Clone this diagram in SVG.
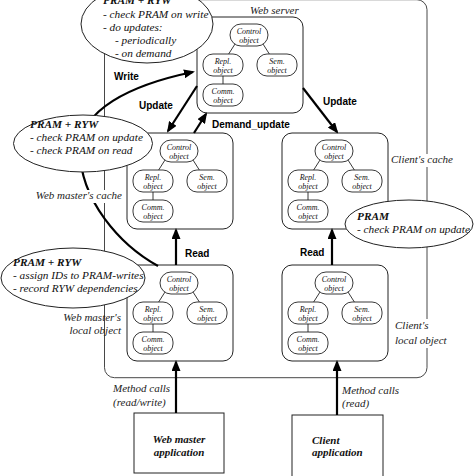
<svg xmlns="http://www.w3.org/2000/svg" width="474" height="476" viewBox="0 0 474 476">
<style>
.frame{fill:none;stroke:#333;stroke-width:0.9}
.box{fill:#fff;stroke:#222;stroke-width:1}
.pill{fill:#fff;stroke:#222;stroke-width:0.9}
.tl{stroke:#222;stroke-width:0.9}
.ell{fill:#fff;stroke:#222;stroke-width:1}
.conn{fill:none;stroke:#000;stroke-width:2.2}
.nt{font-family:"Liberation Serif","Times New Roman",serif;font-style:italic;font-size:8px;text-anchor:middle;fill:#111}
.it{font-family:"Liberation Serif","Times New Roman",serif;font-style:italic;font-size:11.3px;fill:#111}
.bi{font-family:"Liberation Serif","Times New Roman",serif;font-style:italic;font-weight:bold;font-size:11.3px;fill:#111}
.lb{font-family:"Liberation Serif","Times New Roman",serif;font-style:italic;font-size:11px;fill:#222}
.al{font-family:"Liberation Sans",Arial,sans-serif;font-weight:bold;font-size:10px;fill:#000}
.app{font-family:"Liberation Serif","Times New Roman",serif;font-style:italic;font-weight:bold;font-size:11px;fill:#111}
</style>
<defs>
<marker id="ah" markerUnits="userSpaceOnUse" markerWidth="11" markerHeight="9" refX="9" refY="4.5" orient="auto">
<path d="M0,0 L11,4.5 L0,9 z" fill="#000"/>
</marker>
<g id="inner">
<rect class="box" x="0" y="0" width="106" height="96" rx="10"/>
<line class="tl" x1="38" y1="27" x2="31" y2="38"/>
<line class="tl" x1="66" y1="27" x2="73" y2="38"/>
<line class="tl" x1="26" y1="59" x2="26" y2="67"/>
<rect class="pill" x="33" y="7" width="38" height="22" rx="11"/>
<text class="nt" x="52" y="16.5">Control</text><text class="nt" x="52" y="25.5">object</text>
<rect class="pill" x="6" y="37" width="40" height="22" rx="10"/>
<text class="nt" x="26" y="46.5">Repl.</text><text class="nt" x="26" y="55.5">object</text>
<rect class="pill" x="60" y="37" width="40" height="22" rx="10"/>
<text class="nt" x="80" y="46.5">Sem.</text><text class="nt" x="80" y="55.5">object</text>
<rect class="pill" x="6" y="67" width="40" height="22" rx="10"/>
<text class="nt" x="26" y="76.5">Comm.</text><text class="nt" x="26" y="85.5">object</text>
</g>
</defs>

<rect class="frame" x="104.5" y="-0.3" width="322.5" height="378" rx="10"/>

<g id="web-server"><use href="#inner" x="197" y="17"/></g>
<g id="wm-cache"><use href="#inner" x="127" y="133"/></g>
<g id="wm-local"><use href="#inner" x="127" y="265"/></g>
<g id="client-cache"><use href="#inner" x="282" y="133"/></g>
<g id="client-local"><use href="#inner" x="282" y="265"/></g>

<g id="wm-app">
<rect class="box" x="134" y="413" width="90" height="60"/>
<text class="app" x="179" y="443" text-anchor="middle">Web master</text>
<text class="app" x="179" y="456" text-anchor="middle">application</text>
</g>
<g id="client-app">
<rect class="box" x="292" y="415" width="91" height="70"/>
<text class="app" x="312" y="444">Client</text>
<text class="app" x="312" y="456">application</text>
</g>

<g id="connectors">
<path class="conn" d="M158,266 C120,245 80,200 80,150 C80,110 130,85 193,72" marker-end="url(#ah)"/>
<path class="conn" d="M197,86 L168,131" marker-end="url(#ah)"/>
<path class="conn" d="M194,133 L206,114" marker-end="url(#ah)"/>
<path class="conn" d="M303,88 L337,132" marker-end="url(#ah)"/>
<path class="conn" d="M176,265 L176,230" marker-end="url(#ah)"/>
<path class="conn" d="M332,265 L332,230" marker-end="url(#ah)"/>
<path class="conn" d="M176,413 L176,362" marker-end="url(#ah)"/>
<path class="conn" d="M337,415 L337,362" marker-end="url(#ah)"/>
</g>

<g id="note-server">
<ellipse class="ell" cx="147" cy="24" rx="66" ry="39"/>
<text class="bi" x="103" y="4">PRAM + RYW</text>
<text class="it" x="103" y="17.5">- check PRAM on write</text>
<text class="it" x="103" y="30.5">- do updates:</text>
<text class="it" x="115" y="43.5">- periodically</text>
<text class="it" x="115" y="56.5">- on demand</text>
</g>
<g id="note-wm-cache">
<ellipse class="ell" cx="83" cy="143.5" rx="69.5" ry="28.5"/>
<text class="bi" x="30" y="128">PRAM + RYW</text>
<text class="it" x="30" y="141">- check PRAM on update</text>
<text class="it" x="30" y="154">- check PRAM on read</text>
</g>
<g id="note-wm-local">
<ellipse class="ell" cx="73" cy="278" rx="72" ry="30"/>
<text class="bi" x="13" y="266">PRAM + RYW</text>
<text class="it" x="13" y="279">- assign IDs to PRAM-writes</text>
<text class="it" x="13" y="292">- record RYW dependencies</text>
</g>
<g id="note-client">
<ellipse class="ell" cx="409" cy="224" rx="64" ry="24"/>
<text class="bi" x="357" y="220">PRAM</text>
<text class="it" x="357" y="233">- check PRAM on update</text>
</g>

<g id="labels">
<text class="lb" x="250" y="14">Web server</text>
<rect x="30" y="190" width="94" height="13" fill="#fff"/>
<text class="lb" x="122" y="199" text-anchor="end">Web master's cache</text>
<text class="lb" x="121" y="321" text-anchor="end">Web master's</text>
<text class="lb" x="121" y="334" text-anchor="end">local object</text>
<rect x="389" y="154" width="66" height="13" fill="#fff"/>
<text class="lb" x="391" y="163">Client's cache</text>
<rect x="393" y="319" width="58" height="29" fill="#fff"/>
<text class="lb" x="395" y="329">Client's</text>
<text class="lb" x="395" y="344">local object</text>
<text class="lb" x="113" y="392">Method calls</text>
<text class="lb" x="113" y="406">(read/write)</text>
<text class="lb" x="342" y="394">Method calls</text>
<text class="lb" x="342" y="407">(read)</text>
<text class="al" x="114" y="80">Write</text>
<text class="al" x="139" y="109">Update</text>
<text class="al" x="323" y="105">Update</text>
<text class="al" x="212" y="128">Demand_update</text>
<text class="al" x="185" y="257">Read</text>
<text class="al" x="300" y="256">Read</text>
</g>
</svg>
